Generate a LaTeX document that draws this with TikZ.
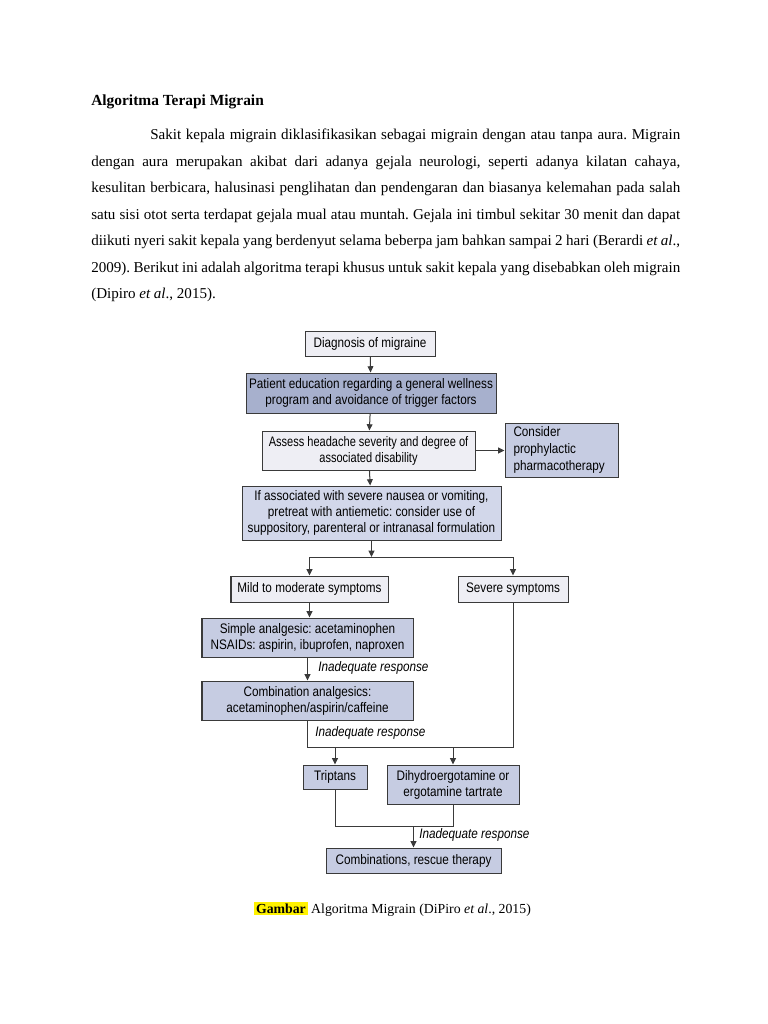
\documentclass[tikz,border=0pt]{standalone}
\usepackage{fontspec}
\setmainfont{Liberation Serif}
\newfontfamily\chartfont[FakeStretch=0.85]{Liberation Sans}
\newfontfamily\chartnarrow[FakeStretch=0.80]{Liberation Sans}
\usetikzlibrary{arrows.meta}
\frenchspacing

\definecolor{linegray}{HTML}{3A3A3A}
\definecolor{paleblue}{HTML}{EEEEF4}
\definecolor{lightblue}{HTML}{D2D7EA}
\definecolor{midblue}{HTML}{C6CCE2}
\definecolor{darkblue}{HTML}{A7B0CD}

\tikzset{
    box/.style={draw=linegray, line width=0.8pt, fill=#1, align=center, inner sep=0pt,
        font=\chartfont\fontsize{11}{12.8}\selectfont},
    size/.style 2 args={minimum width=#1*0.797pt, minimum height=#2*0.797pt},
    link/.style={draw=linegray, line width=0.8pt},
    arrow/.style={link, -{Triangle[length=5pt,width=4.6pt]}},
    note/.style={anchor=west, inner sep=0pt, font=\chartfont\itshape\fontsize{11}{12.8}\selectfont},
    textline/.style={anchor=base west, inner sep=0pt, font=\fontsize{12}{14}\selectfont}
}

\begin{document}
\begin{tikzpicture}[x=0.797pt, y=-0.797pt]

    % Page
    \fill[white] (0,0) rectangle (768,1024);
    \useasboundingbox (0,0) rectangle (768,1024);

    % Heading and paragraph
    \node[textline, font=\bfseries\fontsize{12.3}{14}\selectfont] (title) at (91,105) {Algoritma Terapi Migrain};
    \node[textline] (line1) at (150,139) {\makebox[422.4pt][s]{Sakit kepala migrain diklasifikasikan sebagai migrain dengan atau tanpa aura. Migrain}};
    \node[textline] (line2) at (91,166) {\makebox[469.4pt][s]{dengan aura merupakan akibat dari adanya gejala neurologi, seperti adanya kilatan cahaya,}};
    \node[textline] (line3) at (91,192) {\makebox[469.4pt][s]{kesulitan berbicara, halusinasi penglihatan dan pendengaran dan biasanya kelemahan pada salah}};
    \node[textline] (line4) at (91,219) {\makebox[469.4pt][s]{satu sisi otot serta terdapat gejala mual atau muntah. Gejala ini timbul sekitar 30 menit dan dapat}};
    \node[textline] (line5) at (91,245) {\makebox[469.4pt][s]{diikuti nyeri sakit kepala yang berdenyut selama beberpa jam bahkan sampai 2 hari (Berardi \textit{et al}.,}};
    \node[textline] (line6) at (91,272) {\makebox[469.4pt][s]{2009). Berikut ini adalah algoritma terapi khusus untuk sakit kepala yang disebabkan oleh migrain}};
    \node[textline] (line7) at (91,298) {(Dipiro \textit{et al}., 2015).};

    % Boxes of the algorithm
    \node[box=paleblue, size={130}{25}] (diag) at (370,343.5) {Diagnosis of migraine};
    \node[box=darkblue, size={250}{40}] (edu) at (371,393) {Patient education regarding a general wellness\\program and avoidance of trigger factors};
    \node[box=paleblue, size={213}{39}, font=\chartnarrow\fontsize{11}{12.8}\selectfont] (assess) at (368.5,450.5) {Assess headache severity and degree of\\associated disability};
    \node[box=midblue, size={113}{54}, align=left, text width=96*0.797pt, font=\chartfont\fontsize{11}{13.4}\selectfont] (proph) at (561.5,450) {Consider\\prophylactic\\pharmacotherapy};
    \node[box=lightblue, size={259}{54}] (nausea) at (371.5,513) {If associated with severe nausea or vomiting,\\pretreat with antiemetic: consider use of\\suppository, parenteral or intranasal formulation};
    \node[box=paleblue, size={157}{26}] (mild) at (309.5,589) {Mild to moderate symptoms};
    \node[box=paleblue, size={110}{26}] (severe) at (513,589) {Severe symptoms};
    \node[box=midblue, size={211}{39}] (simple) at (307.5,637.5) {Simple analgesic: acetaminophen\\NSAIDs: aspirin, ibuprofen, naproxen};
    \node[box=midblue, size={211}{39}] (combo) at (307.5,700.5) {Combination analgesics:\\acetaminophen/aspirin/caffeine};
    \node[box=midblue, size={64}{24}] (triptans) at (335,777) {Triptans};
    \node[box=midblue, size={132}{39}] (dhe) at (453,784.5) {Dihydroergotamine or\\ergotamine tartrate};
    \node[box=midblue, size={175}{25}] (rescue) at (413.5,860.5) {Combinations, rescue therapy};

    % Junction points
    \coordinate (split) at (371.5,557);
    \coordinate (join) at (0,747);
    \coordinate (merge) at (0,826);

    % Connectors
    \draw[arrow] (diag) -- (edu);
    \draw[arrow] (edu) -- (assess);
    \draw[arrow] (assess) -- (nausea);
    \draw[arrow] (assess.east) -- (proph.west |- assess.east);
    \draw[arrow] (nausea) -- (split);
    \draw[arrow] (split) -| (mild.north);
    \draw[arrow] (split) -| (severe.north);
    \draw[arrow] (mild) -- (simple.north -| mild.south);
    \draw[arrow] (simple) -- (combo);
    \draw[link] (combo.south) -- (combo.south |- join) -- (severe.south |- join) -- (severe.south);
    \draw[arrow] (triptans.north |- join) -- (triptans.north);
    \draw[arrow] (dhe.north |- join) -- (dhe.north);
    \draw[link] (triptans.south) -- (triptans.south |- merge) -- (dhe.south |- merge) -- (dhe.south);
    \draw[arrow] (rescue.north |- merge) -- (rescue.north);

    % Labels on the connectors
    \node[note] (inad1) at (318,668) {Inadequate response};
    \node[note] (inad2) at (315,733) {Inadequate response};
    \node[note] (inad3) at (419,835) {Inadequate response};

    % Caption
    \node[anchor=base, inner sep=0pt, font=\fontsize{11}{13}\selectfont] (caption) at (392.5,913)
        {{\setlength{\fboxsep}{1.5pt}\colorbox{yellow}{\textbf{Gambar}}} Algoritma Migrain (DiPiro \textit{et al}., 2015)};

\end{tikzpicture}
\end{document}
